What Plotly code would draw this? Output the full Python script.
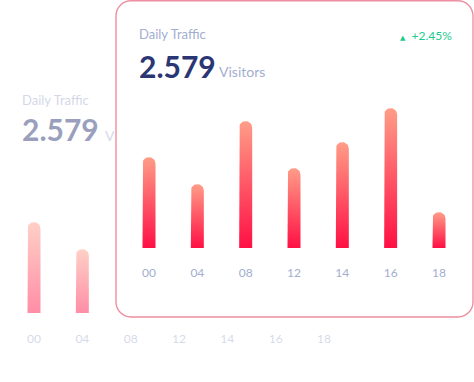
import numpy as np
import plotly.graph_objects as go

# ---------------- data ----------------
hours = ["00", "04", "08", "12", "14", "16", "18"]
traffic = [91, 64, 127, 80, 106, 140, 36]
title_text = "Daily Traffic"
total_text = "2.579"
unit_text = "Visitors"
change_text = "+2.45%"

# ---------------- geometry / style ----------------
W, H = 474, 382
STEP = 48.33          # px between bar centres
BAR_W = 13            # bar width in px
CARD = dict(l=116, r=473, t=0.75, b=317, rad=15)
FG = dict(x0=114, x1=474, y0=0, y1=319, bar0x=149, basey=248, axisy=264)
SHIFT = (-115, 65)    # faded copy offset
BG = dict(x0=0, x1=359, y0=65, y1=382, bar0x=FG["bar0x"] + SHIFT[0],
          basey=FG["basey"] + SHIFT[1], axisy=FG["axisy"] + SHIFT[1] + 1)

BAR_BOTTOM = "#ff1044"
BAR_TOP = "#ff9d88"
NAVY = "#2b3674"
GREY = "#a3aed0"
GREEN = "#1ccb8e"
FADE = 0.47
FONT = "Lato"


def axis_setup(g):
    xr = [(g["x0"] - g["bar0x"]) / STEP, (g["x1"] - g["bar0x"]) / STEP]
    yr = [-(g["y1"] - g["basey"]), g["basey"] - g["y0"]]   # 1 unit = 1 px
    return xr, yr


def bar_polygon(i, v, yscale):
    hw = BAR_W / 2 / STEP
    ry = BAR_W / 2 * yscale
    t = np.linspace(np.pi, 0, 24)
    xs = [i - hw, i - hw] + list(i + hw * np.cos(t)) + [i + hw, i + hw, i - hw]
    ys = [0, v - ry] + list(v - ry + ry * np.sin(t)) + [v - ry, 0, 0]
    return xs, ys


fig = go.Figure()


def add_bars(xa, ya, opacity):
    for i, v in enumerate(traffic):
        xs, ys = bar_polygon(i, v, 1.0)
        fig.add_trace(go.Scatter(
            x=xs, y=ys, xaxis=xa, yaxis=ya, mode="lines", fill="toself",
            line=dict(width=0, color=BAR_BOTTOM), opacity=opacity,
            fillgradient=dict(type="vertical",
                              colorscale=[[0, BAR_BOTTOM], [1, BAR_TOP]]),
            hoverinfo="skip", showlegend=False))


# faded background chart (subplot xy) ---------------------------------
add_bars("x", "y", FADE)


def bg_text(px, py, txt, size, color, bold=False):
    fig.add_trace(go.Scatter(
        x=[(px - BG["bar0x"]) / STEP], y=[BG["basey"] - py], xaxis="x", yaxis="y",
        mode="text", text=[f"<b>{txt}</b>" if bold else txt],
        textposition="middle right", cliponaxis=False,
        textfont=dict(family=FONT, size=size, color=color),
        opacity=FADE, hoverinfo="skip", showlegend=False))


bg_text(22, 102, title_text, 13, GREY)
bg_text(22, 133, total_text, 30, NAVY, bold=True)
bg_text(105, 137, unit_text, 14, GREY)

# foreground chart (subplot x2y2) ---------------------------------------
add_bars("x2", "y2", 1.0)

bxr, byr = axis_setup(BG)
fxr, fyr = axis_setup(FG)

tick_common = dict(tickvals=list(range(len(hours))), ticktext=hours, showgrid=False,
                   zeroline=False, showline=False, ticks="", fixedrange=True)

fig.update_layout(
    width=W, height=H, margin=dict(l=0, r=0, t=0, b=0),
    paper_bgcolor="white", plot_bgcolor="white", showlegend=False,
    xaxis=dict(domain=[BG["x0"] / W, BG["x1"] / W], range=bxr, anchor="free",
               position=1 - BG["axisy"] / H,
               tickfont=dict(family=FONT, size=12,
                             color="rgba(163,174,208,%s)" % FADE), **tick_common),
    yaxis=dict(domain=[1 - BG["y1"] / H, 1 - BG["y0"] / H], range=byr, visible=False,
               fixedrange=True),
    xaxis2=dict(domain=[FG["x0"] / W, FG["x1"] / W], range=fxr, anchor="free",
                position=1 - FG["axisy"] / H,
                tickfont=dict(family=FONT, size=12, color=GREY), **tick_common),
    yaxis2=dict(domain=[1 - FG["y1"] / H, 1 - FG["y0"] / H], range=fyr, visible=False,
                anchor="x2", fixedrange=True),
)


# card outline (in x2y2 so it sits above the faded chart) -----------------
def cx(px):
    return fxr[0] + (px - FG["x0"]) / STEP


def cy(py):
    return FG["basey"] - py


L, R, T, B, r = CARD["l"], CARD["r"], CARD["t"], CARD["b"], CARD["rad"]
k = 0.5523 * r
path = (f"M{cx(L + r)},{cy(T)} L{cx(R - r)},{cy(T)} "
        f"C{cx(R - r + k)},{cy(T)} {cx(R)},{cy(T + r - k)} {cx(R)},{cy(T + r)} "
        f"L{cx(R)},{cy(B - r)} "
        f"C{cx(R)},{cy(B - r + k)} {cx(R - r + k)},{cy(B)} {cx(R - r)},{cy(B)} "
        f"L{cx(L + r)},{cy(B)} "
        f"C{cx(L + r - k)},{cy(B)} {cx(L)},{cy(B - r + k)} {cx(L)},{cy(B - r)} "
        f"L{cx(L)},{cy(T + r)} "
        f"C{cx(L)},{cy(T + r - k)} {cx(L + r - k)},{cy(T)} {cx(L + r)},{cy(T)} Z")
fig.add_shape(type="path", path=path, xref="x2", yref="y2", layer="below",
              line=dict(color="#ee8fa1", width=1.4), fillcolor="rgba(0,0,0,0)")


# header texts of the card -------------------------------------------------
def ann(px, py, txt, size, color, xanchor="left", bold=False):
    fig.add_annotation(x=px / W, y=1 - py / H, xref="paper", yref="paper",
                       text=f"<b>{txt}</b>" if bold else txt, showarrow=False,
                       xanchor=xanchor, yanchor="middle",
                       font=dict(family=FONT, size=size, color=color))


ann(137, 34, title_text, 13, GREY)
ann(137, 66, total_text, 30, NAVY, bold=True)
ann(217, 72, unit_text, 14, GREY)
ann(454, 36,
    f"<span style='font-family:DejaVu Sans;font-size:7px'>▲</span>  {change_text}",
    12, GREEN, xanchor="right")

fig.write_html("out.html",
               config={"displayModeBar": False, "staticPlot": True},
               post_script="document.body.style.margin='0';"
                           "document.body.style.overflow='hidden';")
